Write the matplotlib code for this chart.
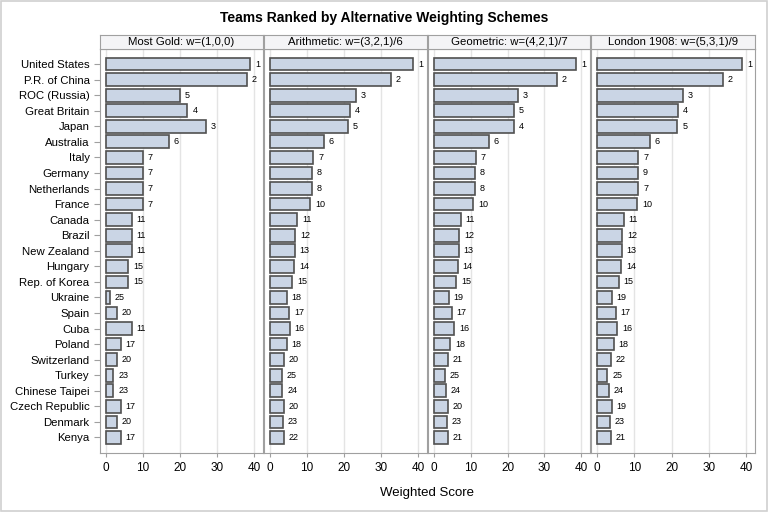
import matplotlib

matplotlib.use("Agg")
import matplotlib.pyplot as plt
from matplotlib.patches import Rectangle

plt.rcParams["font.family"] = ["Liberation Sans", "DejaVu Sans"]

teams = [
    "United States", "P.R. of China", "ROC (Russia)", "Great Britain", "Japan",
    "Australia", "Italy", "Germany", "Netherlands", "France", "Canada", "Brazil",
    "New Zealand", "Hungary", "Rep. of Korea", "Ukraine", "Spain", "Cuba",
    "Poland", "Switzerland", "Turkey", "Chinese Taipei", "Czech Republic",
    "Denmark", "Kenya",
]

panel_titles = [
    "Most Gold: w=(1,0,0)",
    "Arithmetic: w=(3,2,1)/6",
    "Geometric: w=(4,2,1)/7",
    "London 1908: w=(5,3,1)/9",
]

gold_scores = [39, 38, 20, 22, 27, 17, 10, 10, 10, 10, 7, 7, 7, 6, 6,
               1, 3, 7, 4, 3, 2, 2, 4, 3, 4]
gold_ranks = [1, 2, 5, 4, 3, 6, 7, 7, 7, 7, 11, 11, 11, 15, 15,
              25, 20, 11, 17, 20, 23, 23, 17, 20, 17]

arith_scores = [38.67, 32.67, 23.17, 21.67, 21.00, 14.50, 11.67, 11.33, 11.33,
                10.83, 7.33, 6.83, 6.67, 6.50, 6.00, 4.50, 5.17, 5.33, 4.50,
                3.83, 3.17, 3.33, 3.83, 3.50, 3.67]
arith_ranks = [1, 2, 3, 4, 5, 6, 7, 8, 8, 10, 11, 12, 13, 14, 15,
               18, 17, 16, 18, 20, 25, 24, 20, 23, 22]

geom_scores = [38.71, 33.43, 22.71, 21.71, 21.86, 14.86, 11.43, 11.14, 11.14,
               10.71, 7.29, 6.86, 6.71, 6.43, 6.00, 4.00, 4.86, 5.57, 4.43,
               3.71, 3.00, 3.14, 3.86, 3.43, 3.71]
geom_ranks = [1, 2, 3, 5, 4, 6, 7, 8, 8, 10, 11, 12, 13, 14, 15,
              19, 17, 16, 18, 21, 25, 24, 20, 23, 21]

london_scores = [39.00, 33.78, 23.00, 21.67, 21.56, 14.22, 11.11, 11.00, 11.11,
                 10.78, 7.11, 6.78, 6.67, 6.44, 5.78, 3.89, 5.00, 5.44, 4.44,
                 3.67, 2.78, 3.11, 3.89, 3.44, 3.78]
london_ranks = [1, 2, 3, 4, 5, 6, 7, 9, 7, 10, 11, 12, 13, 14, 15,
                19, 17, 16, 18, 22, 25, 24, 19, 23, 21]

panel_scores = [gold_scores, arith_scores, geom_scores, london_scores]
panel_ranks = [gold_ranks, arith_ranks, geom_ranks, london_ranks]

W, H = 768, 512
fig = plt.figure(figsize=(7.68, 5.12), dpi=100)
fig.patches.append(Rectangle((0.001, 0.001), 0.998, 0.997, transform=fig.transFigure,
                             fill=False, edgecolor="#d0d0d0", linewidth=1.2))

fig.text(0.5, 1 - 18 / H, "Teams Ranked by Alternative Weighting Schemes",
         ha="center", va="center", fontsize=10, fontweight="bold")

edges = [(100, 263), (264, 427), (428, 590), (591, 755)]
plot_top, plot_bot, head_top = 49, 453, 35
ypos = list(range(len(teams)))

for i, (x0, x1) in enumerate(edges):
    ax = fig.add_axes([x0 / W, 1 - plot_bot / H, (x1 - x0) / W, (plot_bot - plot_top) / H])
    ax.barh(ypos, panel_scores[i], height=0.82, color="#cad5e5",
            edgecolor="#505050", linewidth=1.2, zorder=3)
    for y, s, r in zip(ypos, panel_scores[i], panel_ranks[i]):
        ax.annotate(str(r), (s, y), xytext=(3.5, 0), textcoords="offset points",
                    va="center", ha="left", fontsize=6.5, zorder=4)
    ax.set_xlim(-1.62, 42.4)
    ax.set_ylim(25.0, -0.97)
    ax.set_xticks([0, 10, 20, 30, 40])
    ax.grid(axis="x", color="#e4e4e4", linewidth=1, zorder=0)
    ax.tick_params(axis="x", labelsize=8.5, colors="#a0a0a0", labelcolor="black",
                   length=3, width=0.8)
    for sp in ax.spines.values():
        sp.set_color("#a0a0a0")
    if i == 0:
        ax.set_yticks(ypos)
        ax.set_yticklabels(teams, fontsize=8.2)
        ax.tick_params(axis="y", length=4, width=0.8, colors="#a0a0a0", labelcolor="black")
    else:
        ax.set_yticks([])

    hax = fig.add_axes([x0 / W, 1 - plot_top / H, (x1 - x0) / W, (plot_top - head_top) / H])
    hax.set_facecolor("#f4f4f6")
    hax.set_xticks([])
    hax.set_yticks([])
    for sp in hax.spines.values():
        sp.set_color("#a0a0a0")
    hax.text(0.5, 0.5, panel_titles[i], ha="center", va="center", fontsize=8.2,
             transform=hax.transAxes)

fig.text((100 + 755) / 2 / W, 1 - 493 / H, "Weighted Score", ha="center",
         va="center", fontsize=9.5)

fig.savefig("out.png", dpi=100)
